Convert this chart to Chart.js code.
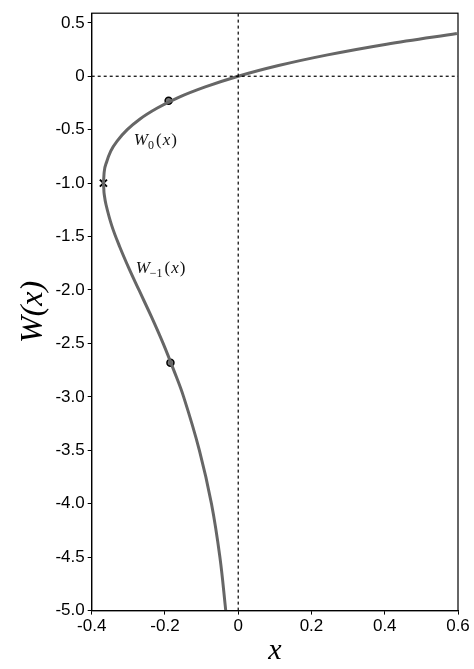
<!DOCTYPE html>
<html>
<head>
<meta charset="utf-8">
<script src="https://cdn.jsdelivr.net/npm/chart.js@4/dist/chart.umd.min.js"></script>
<style>
  html, body { margin: 0; padding: 0; background: #fff; }
  #wrap { width: 474px; height: 669px; }
</style>
</head>
<body>
<div id="wrap"><canvas id="lambert"></canvas></div>
<script>
// principal branch W0
let branchZeroX = [-0.368, -0.367, -0.366, -0.359, -0.348, -0.329, -0.303, -0.268, -0.222, -0.164, -0.090, 0, 0.110, 0.244, 0.405, 0.597];
let branchZeroY = [-1.0, -0.95, -0.9, -0.8, -0.7, -0.6, -0.5, -0.4, -0.3, -0.2, -0.1, 0, 0.1, 0.2, 0.3, 0.4];
// lower branch W-1
let branchMinusX = [-0.368, -0.367, -0.366, -0.361, -0.345, -0.323, -0.298, -0.271, -0.237, -0.205, -0.176, -0.149, -0.106, -0.073, -0.050, -0.034];
let branchMinusY = [-1.0, -1.05, -1.1, -1.2, -1.4, -1.6, -1.8, -2.0, -2.25, -2.5, -2.75, -3.0, -3.5, -4.0, -4.5, -5.0];
let circleX = [-0.19, -0.185];
let circleY = [-0.23, -2.68];
let crossX = [-0.368];
let crossY = [-1.0];
let yTickValues = [0.5, 0, -0.5, -1, -1.5, -2, -2.5, -3, -3.5, -4, -4.5, -5];

function toPoints(xs, ys){
    let pts = new Array();
    for(let i=0; i<xs.length; i++){
        pts.push({x: xs[i], y: ys[i]});
    }
    return pts;
}

// curve labels W0(x) and W-1(x)
let curveLabels = {
    id: 'curveLabels',
    afterDatasetsDraw(chart){
        let c = chart.ctx, sx = chart.scales.x, sy = chart.scales.y;
        function lab(x, y, sub){
            let px = sx.getPixelForValue(x), py = sy.getPixelForValue(y);
            c.save();
            c.fillStyle = '#111';
            c.textBaseline = 'middle';
            c.font = 'italic 17px "Liberation Serif"';
            c.fillText('W', px, py);
            let w = c.measureText('W').width;
            c.font = '12px "Liberation Serif"';
            c.fillText(sub, px + w, py + 5);
            let w2 = c.measureText(sub).width;
            c.font = '17px "Liberation Serif"';
            c.fillText('(', px + w + w2 + 2, py);
            let w3 = c.measureText('(').width;
            c.font = 'italic 17px "Liberation Serif"';
            c.fillText('x', px + w + w2 + 3 + w3, py);
            let w4 = c.measureText('x').width;
            c.font = '17px "Liberation Serif"';
            c.fillText(')', px + w + w2 + 4 + w3 + w4, py);
            c.restore();
        }
        lab(-0.285, -0.6, '0');
        lab(-0.28, -1.8, '\u22121');
    }
};

new Chart(document.getElementById('lambert'), {
    type: 'scatter',
    data: {
        datasets: [
            { data: [{x: 0, y: -5}, {x: 0, y: 0.6}], showLine: true, borderColor: '#000', borderWidth: 1.2, borderDash: [3, 3], pointRadius: 0 },
            { data: [{x: -0.4, y: 0}, {x: 0.6, y: 0}], showLine: true, borderColor: '#000', borderWidth: 1.2, borderDash: [3, 3], pointRadius: 0 },
            { data: toPoints(branchZeroX, branchZeroY), showLine: true, borderColor: '#666', borderWidth: 3, pointRadius: 0, tension: 0.4, cubicInterpolationMode: 'monotone' },
            { data: toPoints(branchMinusX, branchMinusY), showLine: true, borderColor: '#666', borderWidth: 3, pointRadius: 0, tension: 0.4 },
            { data: toPoints(circleX, circleY), pointStyle: 'circle', pointRadius: 3.5, borderColor: '#000', borderWidth: 1.5, backgroundColor: '#777' },
            { data: toPoints(crossX, crossY), pointStyle: 'crossRot', pointRadius: 5, borderColor: '#000', borderWidth: 2 }
        ]
    },
    options: {
        animation: false,
        responsive: true,
        maintainAspectRatio: false,
        layout: { padding: { top: 3, right: 16, bottom: 0, left: 14 } },
        plugins: { legend: { display: false }, tooltip: { enabled: false } },
        scales: {
            x: {
                min: -0.4, max: 0.6,
                border: { color: '#000', width: 1.2 },
                grid: { drawOnChartArea: false, color: '#000', tickLength: 4 },
                ticks: { stepSize: 0.2, color: '#000', padding: 2, font: { family: 'Liberation Sans', size: 17 }, maxRotation: 0,
                         callback: v => (Math.abs(v) < 1e-9 ? '0' : v.toFixed(1)) },
                title: { display: true, text: 'x', color: '#000', padding: { top: -6, bottom: 0 }, font: { family: 'Liberation Serif', style: 'italic', size: 30 } }
            },
            y: {
                min: -5, max: 0.59,
                border: { color: '#000', width: 1.2 },
                grid: { drawOnChartArea: false, color: '#000', tickLength: 4 },
                afterBuildTicks: axis => { axis.ticks = yTickValues.map(v => ({ value: v })); },
                ticks: { color: '#000', padding: 3, font: { family: 'Liberation Sans', size: 17 },
                         callback: v => (v === 0 ? '0' : v.toFixed(1)) },
                title: { display: true, text: 'W(x)', color: '#000', padding: 0, font: { family: 'Liberation Serif', style: 'italic', size: 32 } }
            }
        }
    },
    plugins: [curveLabels, {
        id: 'frame',
        afterDraw(chart){
            let a = chart.chartArea, c = chart.ctx;
            c.save(); c.strokeStyle = '#000'; c.lineWidth = 1.2;
            c.strokeRect(a.left, a.top, a.right - a.left, a.bottom - a.top);
            c.restore();
        }
    }]
});
</script>
</body>
</html>
